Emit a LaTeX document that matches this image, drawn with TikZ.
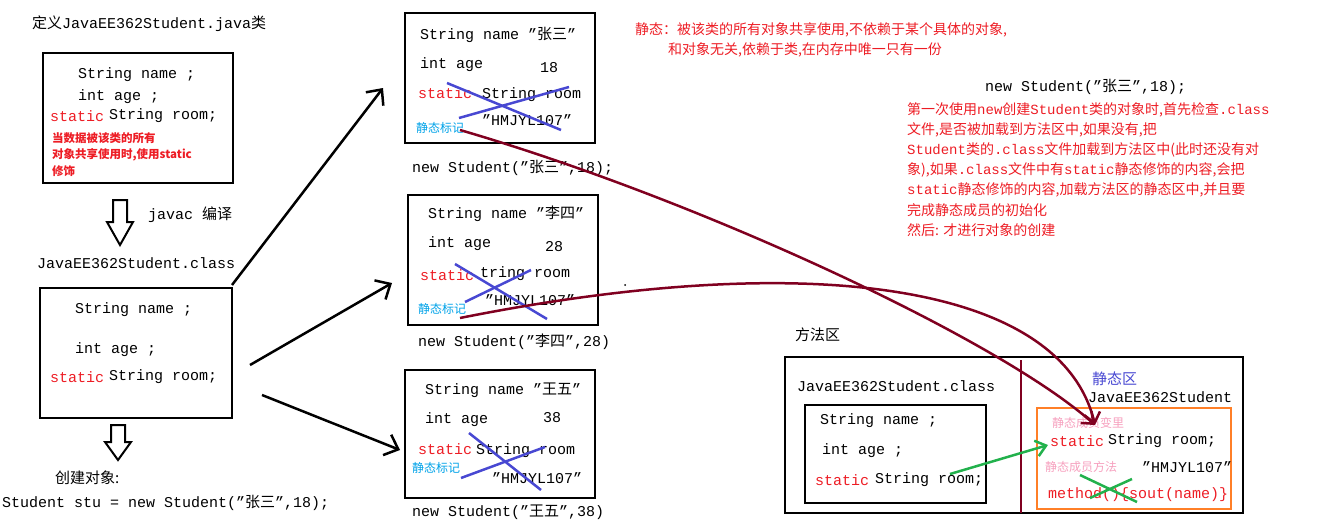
\documentclass[tikz,border=0pt]{standalone}
\usepackage{fontspec}
\setmainfont{Liberation Mono}
\newfontfamily\cjk{Noto Sans CJK SC}
\usetikzlibrary{arrows.meta}
\newcommand\zh[1]{{\cjk #1}}
\definecolor{rd}{RGB}{237,28,36}
\definecolor{dred}{RGB}{128,0,32}
\definecolor{xblue}{RGB}{72,72,210}
\definecolor{cyanb}{RGB}{0,162,232}
\definecolor{pinkc}{RGB}{246,160,190}
\definecolor{orng}{RGB}{255,127,39}
\definecolor{grn}{RGB}{34,177,76}
\begin{document}
\begin{tikzpicture}[x=1pt,y=-1pt,
  t/.style={anchor=west,inner sep=0pt,font=\fontsize{15}{15}\selectfont},
  rt/.style={t,text=rd},
  sm/.style={anchor=west,inner sep=0pt,font=\fontsize{11.5}{12}\selectfont\cjk\bfseries,text=rd},
  cy/.style={anchor=west,inner sep=0pt,font=\fontsize{12}{12}\selectfont\cjk,text=cyanb},
  pk/.style={anchor=west,inner sep=0pt,font=\fontsize{12}{12}\selectfont\cjk,text=pinkc},
  para/.style={anchor=west,inner sep=0pt,font=\fontsize{14}{14}\selectfont,text=rd},
  bx/.style={draw,line width=2.5pt},
  blk/.style={draw,line width=2.5pt,-{Straight Barb[length=12pt,width=22pt,line width=2.5pt]}},
  xl/.style={draw=xblue,line width=2.5pt},
  gl/.style={draw=grn,line width=2.5pt},
  dr/.style={draw=dred,line width=2.5pt,-{Straight Barb[length=10pt,width=16pt,line width=2.5pt]}},
  hollow/.style={draw,line width=2pt,fill=white}]
\useasboundingbox (0,0) rectangle (1332,519);
% left column
\node[t] (title) at (32,24) {\zh{定义}JavaEE362Student.java\zh{类}};
\draw[bx] (43,53) rectangle (233,183);
\node[t] (a1) at (78,75) {String name ;};
\node[t] (a2) at (78,97) {int age ;};
\node[rt] (a3s) at (50,116) {static};
\node[t] (a3) at (109,116) {String room;};
\node[sm] (n1) at (52,138) {当数据被该类的所有};
\node[sm] (n2) at (52,155) {对象共享使用时,使用static};
\node[sm] (n3) at (52,171) {修饰};
\draw[hollow] (113,200) -- (127,200) -- (127,222) -- (133,222) -- (120,245) -- (107,222) -- (113,222) -- cycle;
\node[t] (javac) at (148,215) {javac \zh{编译}};
\node[t] (cls) at (37,263) {JavaEE362Student.class};
\draw[bx] (40,288) rectangle (232,418);
\coordinate (c1) at (232,285); \coordinate (c2) at (250,365); \coordinate (c3) at (262,395);
\node[t] (b1) at (75,310) {String name ;};
\node[t] (b2) at (75,350) {int age ;};
\node[rt] (b3s) at (50,377) {static};
\node[t] (b3) at (109,377) {String room;};
\draw[hollow] (111,425) -- (125,425) -- (125,442) -- (131,442) -- (118,460) -- (105,442) -- (111,442) -- cycle;
\node[t] (create) at (55,478) {\zh{创建对象:}};
\node[t] (stu) at (2,503) {Student stu = new Student(”\zh{张三}”,18);};
% object boxes
\draw[bx] (405,13) rectangle (595,143);
\node[t] (o1a) at (420,35) {String name ”\zh{张三}”};
\node[t] (o1b) at (420,65) {int age};
\node[t] (o1c) at (540,68) {18};
\node[rt] (o1s) at (418,93) {static};
\node[t] (o1d) at (482,95) {String room};
\node[cy] (o1m) at (416,128) {静态标记};
\node[t] (o1e) at (482,120) {”HMJYL107”};
\draw[xl] (447,83) -- (561,130); \draw[xl] (459,118) -- (569,87);
\node[t] (o1n) at (412,168) {new Student(”\zh{张三}”,18);};
\draw[bx] (408,195) rectangle (598,325);
\node[t] (o2a) at (428,214) {String name ”\zh{李四}”};
\node[t] (o2b) at (428,244) {int age};
\node[t] (o2c) at (545,247) {28};
\node[rt] (o2s) at (420,275) {static};
\node[t] (o2d) at (480,274) {tring room};
\node[cy] (o2m) at (418,309) {静态标记};
\node[t] (o2e) at (485,300) {”HMJYL107”};
\draw[xl] (455,264) -- (547,319); \draw[xl] (465,302) -- (531,270);
\node[t] (o2n) at (418,342) {new Student(”\zh{李四}”,28)};
\draw[bx] (405,370) rectangle (595,498);
\node[t] (o3a) at (425,390) {String name ”\zh{王五}”};
\node[t] (o3b) at (425,420) {int age};
\node[t] (o3c) at (543,418) {38};
\node[rt] (o3s) at (418,449) {static};
\node[t] (o3d) at (476,451) {String room};
\node[cy] (o3m) at (412,468) {静态标记};
\node[t] (o3e) at (492,478) {”HMJYL107”};
\draw[xl] (469,433) -- (541,490); \draw[xl] (461,478) -- (545,447);
\node[t] (o3n) at (412,512) {new Student(”\zh{王五}”,38)};
% black arrows
\coordinate (e1) at (383,88); \coordinate (e2) at (392,283); \coordinate (e3) at (400,450);
\draw[blk] (c1) -- (e1);
\draw[blk] (c2) -- (e2);
\draw[blk] (c3) -- (e3);
% right texts
\node[para] (s1) at (635,30) {\zh{静态：被该类的所有对象共享使用,不依赖于某个具体的对象,}};
\node[para] (s2) at (668,50) {\zh{和对象无关,依赖于类,在内存中唯一只有一份}};
\node[t] (ns) at (985,87) {new Student(”\zh{张三}”,18);};
\node[para] (p1) at (907,110) {\zh{第一次使用}new\zh{创建}Student\zh{类的对象时,首先检查}.class};
\node[para] (p2) at (907,130) {\zh{文件,是否被加载到方法区中,如果没有,把}};
\node[para] (p3) at (907,150) {Student\zh{类的}.class\zh{文件加载到方法区中(此时还没有对}};
\node[para] (p4) at (907,170) {\zh{象),如果}.class\zh{文件中有}static\zh{静态修饰的内容,会把}};
\node[para] (p5) at (907,190) {static\zh{静态修饰的内容,加载方法区的静态区中,并且要}};
\node[para] (p6) at (907,210) {\zh{完成静态成员的初始化}};
\node[para] (p7) at (907,230) {\zh{然后: 才进行对象的创建}};
\fill (625,285) circle (1pt);
% method area
\node[t] (ff) at (795,335) {\zh{方法区}};
\draw[bx] (785,357) rectangle (1243,513);
\draw[draw=dred,line width=2.5pt] (1021,360) -- (1021,513);
\node[t] (mcls) at (797,386) {JavaEE362Student.class};
\draw[bx] (805,405) rectangle (986,503);
\node[t] (m1) at (820,421) {String name ;};
\node[t] (m2) at (822,451) {int age ;};
\node[rt] (m3s) at (815,480) {static};
\node[t] (m3) at (875,480) {String room;};
\node[anchor=west,inner sep=0pt,font=\fontsize{15}{15}\selectfont\cjk,text=xblue] (jt) at (1092,379) {静态区};
\node[t] (jn) at (1088,397) {JavaEE362Student};
\draw[draw=orng,line width=2.5pt] (1037,408) rectangle (1231,509);
\node[pk] (v1) at (1052,423) {静态成员变里};
\node[rt] (v2s) at (1050,441) {static};
\node[t] (v2) at (1108,441) {String room;};
\node[pk] (v3) at (1045,467) {静态成员方法};
\node[t] (v3b) at (1142,467) {”HMJYL107”};
\node[rt] (v4) at (1048,495) {method()\{sout(name)\}};
\draw[gl] (1080,475) -- (1137,502); \draw[gl] (1090,498) -- (1132,479);
\coordinate (gs) at (950,474); \coordinate (ge) at (1048,445);
\draw[gl,-{Straight Barb[length=10pt,width=16pt,line width=2.5pt]}] (gs) -- (ge);
% dark red connectors
\coordinate (r1) at (460,130); \coordinate (r2) at (460,318); \coordinate (tip) at (1095,425);
\draw[dr] (r1) .. controls (700,200) and (1000,340) .. (tip);
\draw[dr] (r2) .. controls (800,250) and (1060,280) .. (tip);
\end{tikzpicture}
\end{document}
